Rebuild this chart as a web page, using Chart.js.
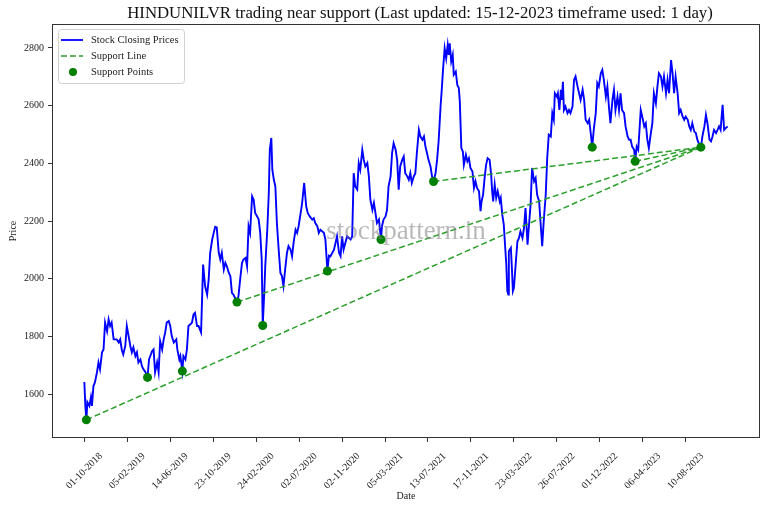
<!DOCTYPE html>
<html>
<head>
<meta charset="utf-8">
<script src="https://cdn.jsdelivr.net/npm/chart.js@4.4.1/dist/chart.umd.min.js"></script>
<style>
  html, body { margin: 0; padding: 0; background: #fff; }
  canvas { display: block; }
</style>
</head>
<body>
<canvas id="chart" width="768" height="512"></canvas>
<script>
// trading-day index (0 = 01-10-2018) and closing price
const dayIdx = [0,2,4,6,10,13,15,18,21,25,28,31,35,38,41,45,48,51,54,58,64,68,71,74,77,81,84,87,91,94,97,101,104,107,111,114,117,121,125,128,134,137,140,144,147,150,154,157,160,163,167,170,173,177,182,184,188,190,194,196,200,203,206,210,213,216,219,223,226,231,235,239,243,246,249,253,256,259,262,266,269,272,276,279,282,286,289,292,295,302,305,309,312,315,319,322,325,328,332,335,338,342,345,348,351,353,356,358,362,365,367,370,372,375,378,381,385,388,391,394,398,401,404,408,411,414,418,421,424,427,431,435,439,442,446,451,454,457,461,464,467,474,477,481,484,487,494,500,504,507,510,513,520,527,530,533,536,540,543,546,550,553,556,560,563,566,570,573,576,579,583,587,589,592,596,599,602,606,609,612,616,619,622,625,629,632,635,639,642,645,648,652,655,658,662,665,669,672,675,678,681,685,688,691,695,698,701,705,707,710,713,716,719,721,723,726,729,731,735,738,741,743,746,749,751,755,758,761,764,768,771,774,777,781,784,786,789,792,795,798,802,805,807,809,812,815,818,822,824,827,830,832,835,837,839,840,844,846,848,850,853,857,860,863,867,870,873,877,880,883,886,890,893,896,900,903,906,909,913,916,919,923,926,929,931,935,937,940,943,945,947,949,952,956,959,962,966,969,972,976,979,982,986,989,992,996,999,1002,1005,1008,1012,1015,1018,1022,1025,1028,1032,1035,1038,1041,1045,1048,1051,1055,1058,1061,1064,1068,1071,1075,1078,1081,1084,1088,1090,1093,1096,1099,1101,1104,1108,1111,1114,1117,1121,1124,1127,1131,1134,1137,1141,1144,1147,1151,1154,1157,1161,1164,1167,1170,1174,1177,1180,1184,1187,1190,1194,1197,1200,1203,1207,1210,1213,1217,1220,1223,1227,1230,1233,1237,1240,1243,1246,1250,1253,1256,1259,1263,1266,1269,1273];
const closePrices = [1642,1559,1511,1572,1559,1589,1559,1628,1641,1676,1710,1686,1745,1755,1848,1818,1859,1836,1848,1790,1790,1779,1790,1755,1738,1767,1836,1807,1767,1745,1762,1732,1745,1710,1720,1697,1686,1676,1658,1720,1749,1755,1676,1710,1676,1784,1755,1790,1814,1848,1853,1836,1801,1779,1790,1755,1720,1732,1680,1732,1720,1755,1836,1842,1848,1876,1882,1836,1836,1814,2049,1974,1945,1997,2090,2136,2159,2180,2178,2090,2067,2090,2032,2055,2043,2020,2009,1951,1945,1919,1940,2009,2055,2067,2072,2043,2182,2159,2286,2274,2228,2216,2205,2159,2067,1838,1951,2043,2170,2297,2447,2488,2378,2343,2320,2193,2090,2020,2009,1974,2043,2090,2113,2101,2078,2124,2170,2159,2182,2216,2263,2332,2251,2228,2216,2205,2210,2193,2182,2159,2170,2159,2136,2027,2080,2078,2101,2147,2090,2078,2147,2101,2147,2136,2147,2366,2320,2309,2401,2378,2447,2412,2389,2401,2355,2274,2239,2263,2228,2193,2205,2136,2182,2205,2216,2239,2320,2355,2436,2470,2447,2412,2309,2389,2412,2424,2366,2355,2343,2366,2332,2355,2366,2436,2516,2493,2482,2493,2458,2436,2412,2389,2355,2337,2366,2412,2475,2600,2649,2730,2799,2764,2810,2776,2816,2753,2776,2707,2718,2672,2661,2614,2453,2441,2395,2430,2407,2418,2384,2372,2315,2338,2315,2303,2234,2268,2291,2349,2395,2418,2412,2361,2303,2268,2326,2280,2303,2268,2280,2222,2188,2130,2049,1957,1945,2095,2107,2038,1957,1968,2038,2130,2141,2164,2141,2176,2245,2118,2188,2257,2384,2338,2349,2291,2268,2188,2113,2199,2291,2420,2499,2493,2574,2551,2643,2631,2643,2585,2655,2620,2683,2585,2597,2574,2585,2574,2597,2689,2701,2666,2643,2620,2655,2620,2551,2539,2551,2505,2456,2516,2574,2678,2666,2712,2724,2689,2631,2666,2597,2539,2620,2655,2585,2631,2585,2643,2585,2574,2528,2493,2482,2482,2458,2447,2407,2458,2447,2528,2585,2562,2528,2539,2482,2453,2505,2539,2643,2608,2666,2712,2701,2666,2701,2643,2689,2643,2758,2712,2643,2701,2643,2574,2585,2562,2551,2562,2551,2528,2516,2539,2510,2505,2482,2464,2456,2493,2528,2568,2539,2482,2476,2493,2516,2505,2516,2528,2516,2603,2516,2522,2528];

// support points (trading-day index, price)
const supportIdx = [4,125,194,302,353,481,587,691,1005,1090,1220];
const supportPrices = [1511,1658,1680,1919,1838,2027,2136,2337,2456,2407,2456];
// support lines join two support points (positions in the arrays above)
const supportLinePairs = [[0,10],[3,10],[7,10],[9,10]];

// x tick positions (trading-day index) and their date labels
const xTickIdx = [0,85,170,255,340,425,510,595,680,765,850,935,1020,1105,1190];
const xTickLabels = ['01-10-2018','05-02-2019','14-06-2019','23-10-2019','24-02-2020','02-07-2020','02-11-2020','05-03-2021','13-07-2021','17-11-2021','23-03-2022','26-07-2022','01-12-2022','06-04-2023','10-08-2023'];
const yTicks = [1600,1800,2000,2200,2400,2600,2800];

const chartTitle = 'HINDUNILVR trading near support (Last updated: 15-12-2023 timeframe used: 1 day)';
const SERIF = '"Liberation Serif", "Times New Roman", serif';
const priceData = dayIdx.map((d, i) => ({ x: d, y: closePrices[i] }));
const supportData = supportIdx.map((d, i) => ({ x: d, y: supportPrices[i] }));

const lineSets = supportLinePairs.map(([a, b], i) => ({
  type: 'line',
  label: i === 0 ? 'Support Line' : '_nolegend_',
  data: [supportData[a], supportData[b]],
  borderColor: '#2ca02c',
  borderWidth: 1.5,
  borderDash: [6, 3],
  pointRadius: 0,
  order: 2
}));

// title, frame, rotated date labels, watermark and legend
const decor = {
  id: 'decor',
  afterDatasetsDraw(chart) {
    const { ctx, chartArea: a, scales } = chart;
    ctx.save();
    ctx.font = '27px ' + SERIF;
    ctx.fillStyle = 'rgba(128,128,128,0.55)';
    ctx.textAlign = 'center';
    ctx.textBaseline = 'middle';
    ctx.fillText('stockpattern.in', (a.left + a.right) / 2, (a.top + a.bottom) / 2 + 1);

    ctx.fillStyle = '#111';
    ctx.font = '16.8px ' + SERIF;
    ctx.fillText(chartTitle, 420, 14);

    ctx.strokeStyle = '#333';
    ctx.lineWidth = 1;
    ctx.strokeRect(a.left + 0.5, a.top + 0.5, a.right - a.left - 1, a.bottom - a.top - 1);

    ctx.fillStyle = '#222';
    ctx.font = '10px ' + SERIF;
    xTickIdx.forEach((v, i) => {
      const px = scales.x.getPixelForValue(v);
      ctx.save();
      ctx.translate(px, a.bottom + 33);
      ctx.rotate(-Math.PI / 4);
      ctx.textAlign = 'center';
      ctx.textBaseline = 'middle';
      ctx.fillText(xTickLabels[i], 0, 0);
      ctx.restore();
    });

    // legend
    const lx = a.left + 6, ly = a.top + 5, lw = 126, lh = 54;
    ctx.beginPath();
    ctx.roundRect(lx + 0.5, ly + 0.5, lw, lh, 3);
    ctx.fillStyle = 'rgba(255,255,255,0.85)';
    ctx.fill();
    ctx.strokeStyle = '#d0d0d0';
    ctx.stroke();
    const rows = [ly + 11, ly + 27, ly + 43];
    ctx.lineWidth = 1.8;
    ctx.strokeStyle = '#0000ff';
    ctx.beginPath(); ctx.moveTo(lx + 3, rows[0]); ctx.lineTo(lx + 25, rows[0]); ctx.stroke();
    ctx.lineWidth = 1.5;
    ctx.strokeStyle = '#2ca02c';
    ctx.setLineDash([6, 3]);
    ctx.beginPath(); ctx.moveTo(lx + 3, rows[1]); ctx.lineTo(lx + 25, rows[1]); ctx.stroke();
    ctx.setLineDash([]);
    ctx.fillStyle = '#008000';
    ctx.beginPath(); ctx.arc(lx + 15, rows[2], 4, 0, Math.PI * 2); ctx.fill();
    ctx.fillStyle = '#222';
    ctx.font = '10.5px ' + SERIF;
    ctx.textAlign = 'left';
    ctx.textBaseline = 'middle';
    ctx.fillText('Stock Closing Prices', lx + 33, rows[0]);
    ctx.fillText('Support Line', lx + 33, rows[1]);
    ctx.fillText('Support Points', lx + 33, rows[2]);
    ctx.restore();
  }
};

new Chart(document.getElementById('chart'), {
  data: {
    datasets: [
      {
        type: 'line',
        label: 'Stock Closing Prices',
        data: priceData,
        borderColor: '#0000ff',
        borderWidth: 1.9,
        pointRadius: 0,
        tension: 0,
        order: 3
      },
      ...lineSets,
      {
        type: 'scatter',
        label: 'Support Points',
        data: supportData,
        backgroundColor: '#008000',
        borderWidth: 0,
        pointRadius: 4.5,
        order: 1
      }
    ]
  },
  options: {
    responsive: false,
    animation: false,
    layout: { padding: { top: 24, right: 8, left: 0, bottom: 0 } },
    plugins: {
      legend: { display: false },
      tooltip: { enabled: false },
      title: { display: false }
    },
    scales: {
      x: {
        type: 'linear',
        min: -64,
        max: 1337,
        afterBuildTicks: s => { s.ticks = xTickIdx.map(v => ({ value: v })); },
        afterFit: s => { s.height = 74; },
        ticks: { display: false },
        grid: { display: true, drawOnChartArea: false, drawTicks: true, tickLength: 4, color: '#333' },
        border: { display: false },
        title: { display: true, text: 'Date', color: '#222', font: { family: SERIF, size: 10 }, padding: { top: 0, bottom: 10 } }
      },
      y: {
        type: 'linear',
        min: 1448,
        max: 2883,
        afterBuildTicks: s => { s.ticks = yTicks.map(v => ({ value: v })); },
        afterFit: s => { s.width = 52; },
        ticks: { color: '#222', font: { family: SERIF, size: 10 }, padding: 4, callback: v => String(v) },
        grid: { display: true, drawOnChartArea: false, drawTicks: true, tickLength: 4, color: '#333' },
        border: { display: false },
        title: { display: true, text: 'Price', color: '#222', font: { family: SERIF, size: 10 }, padding: { top: 7, bottom: 0 } }
      }
    }
  },
  plugins: [decor]
});
</script>
</body>
</html>
